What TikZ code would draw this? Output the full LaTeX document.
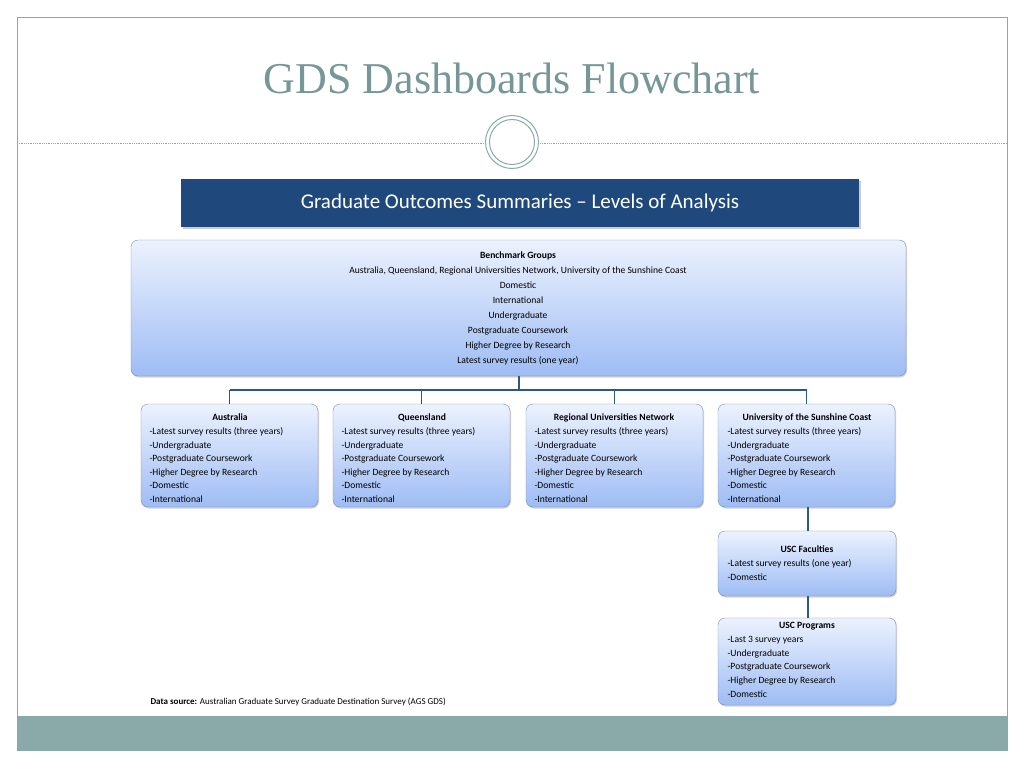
\documentclass[tikz,border=0pt]{standalone}
\usepackage{fontspec}
\setmainfont{Carlito}
\newfontfamily\titlefont{Liberation Serif}
\usetikzlibrary{shadows}
\definecolor{teal}{RGB}{138,170,170}
\definecolor{titlec}{RGB}{118,150,152}
\definecolor{navy}{RGB}{31,73,125}
\definecolor{boxtop}{RGB}{236,242,254}
\definecolor{boxbot}{RGB}{158,188,244}
\definecolor{boxline}{RGB}{120,140,170}
\definecolor{conn}{RGB}{40,90,130}
\begin{document}
\begin{tikzpicture}[x=1pt,y=-1pt,
  box/.style={draw=boxline,rounded corners=7pt,top color=boxtop,bottom color=boxbot,drop shadow={opacity=0.35,shadow xshift=1pt,shadow yshift=-1.5pt},inner sep=0pt},
  txt/.style={font=\fontsize{9.6}{13.6}\selectfont,align=left,anchor=north west},
  ctxt/.style={font=\fontsize{9.6}{15}\selectfont,align=center,anchor=north},
  conn/.style={draw=conn,line width=1.6pt}]
\useasboundingbox (0,0) rectangle (1024,768);
\fill[white] (0,0) rectangle (1024,768);
\draw[teal,line width=0.8pt] (17,17) rectangle (1007,750);
\fill[teal] (17,716) rectangle (1007,750);
\node[font=\titlefont\fontsize{44}{44}\selectfont,text=titlec] (title) at (512,78) {GDS Dashboards Flowchart};
\draw[teal,densely dotted,line width=0.8pt] (17,143) -- (484,143);
\draw[teal,densely dotted,line width=0.8pt] (540,143) -- (1007,143);
\node[circle,draw=teal,line width=1pt,minimum size=53pt,fill=white] (c1) at (512,142) {};
\node[circle,draw=teal,line width=1pt,minimum size=45pt] (c2) at (512,142) {};
\node[fill=navy,minimum width=678pt,minimum height=48pt,text=white,font=\fontsize{21}{21}\selectfont,drop shadow={opacity=0.4}] (banner) at (520,203) {Graduate Outcomes Summaries – Levels of Analysis};
% benchmark
\path[box] (131,240) rectangle (906,376);
\coordinate (bm) at (519,376);
\node[ctxt] (bmt) at (518,248) {\textbf{Benchmark Groups}\\Australia, Queensland, Regional Universities Network, University of the Sunshine Coast\\Domestic\\International\\Undergraduate\\Postgraduate Coursework\\Higher Degree by Research\\Latest survey results (one year)};
% level 2 boxes
\foreach \x/\n in {141/a,333/q,526/r,718/u}{\path[box] (\x,404) rectangle ++(177,103); \coordinate (\n) at (\x+88.5,404);}
\coordinate (j) at (519,390);
\draw[conn] (bm) -- (j);
\draw[conn] (a|-j) -- (u|-j);
\foreach \n in {a,q,r,u}{\draw[conn] (\n|-j) -- (\n);}
\node[ctxt,anchor=north] at (230,410) {\textbf{Australia}};
\node[ctxt,anchor=north] at (422,410) {\textbf{Queensland}};
\node[ctxt,anchor=north] at (614,410) {\textbf{Regional Universities Network}};
\node[ctxt,anchor=north] at (807,410) {\textbf{University of the Sunshine Coast}};
\foreach \x in {146,338,531,724}{
\node[txt] at (\x,424) {-Latest survey results (three years)\\-Undergraduate\\-Postgraduate Coursework\\-Higher Degree by Research\\-Domestic\\-International};}
% faculties
\path[box] (718,531) rectangle (896,596);
\coordinate (fac) at (808,531);
\coordinate (facb) at (808,596);
\draw[conn] (808,507) -- (fac);
\node[ctxt] at (807,542) {\textbf{USC Faculties}};
\node[txt] at (724,556) {-Latest survey results (one year)\\-Domestic};
% programs
\path[box] (718,618) rectangle (896,705);
\coordinate (prog) at (808,618);
\draw[conn] (facb) -- (prog);
\node[ctxt] at (807,619) {\textbf{USC Programs}};
\node[txt] at (724,633) {-Last 3 survey years\\-Undergraduate\\-Postgraduate Coursework\\-Higher Degree by Research\\-Domestic};
\node[anchor=west,font=\fontsize{9}{9}\selectfont] (ds) at (147,702) {\textbf{Data source:} Australian Graduate Survey Graduate Destination Survey (AGS GDS)};
\end{tikzpicture}
\end{document}
